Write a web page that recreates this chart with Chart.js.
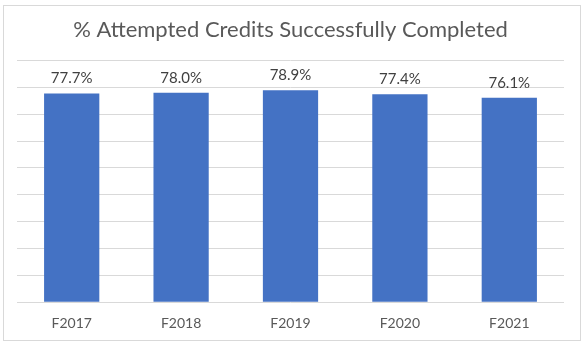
<!DOCTYPE html>
<html>
<head>
<meta charset="utf-8">
<script src="https://cdn.jsdelivr.net/npm/chart.js@4"></script>
<style>
    body { margin: 0; background: #ffffff; }
    .frame {
        position: absolute;
        left: 3px; top: 5px;
        width: 576px; height: 334px;
        border: 1px solid #d9d9d9;
    }
    .wrap { position: absolute; left: 0; top: 0; width: 584px; height: 349px; }
</style>
</head>
<body>
<div class="frame"></div>
<div class="wrap"><canvas class="bar_canvas" width="584" height="349"></canvas></div>
<script>
const labels = ['F2017', 'F2018', 'F2019', 'F2020', 'F2021'];
const values = [77.7, 78.0, 78.9, 77.4, 76.1];
const chartTitle = '% Attempted Credits Successfully Completed';

// draw the value labels above each bar
const barLabels = {
    id: 'barLabels',
    afterDatasetsDraw(chart) {
        const ctx = chart.ctx;
        const meta = chart.getDatasetMeta(0);
        ctx.save();
        ctx.font = '15px Lato, "Open Sans", sans-serif';
        ctx.fillStyle = '#404040';
        ctx.textAlign = 'center';
        ctx.textBaseline = 'alphabetic';
        meta.data.forEach(function(bar, i) {
            ctx.fillText(values[i].toFixed(1) + '%', bar.x, bar.y - 10);
        });
        ctx.restore();
    }
};

window.onload = function() {
    const ctx = document.querySelector(".bar_canvas");
    const bar_canvas = new Chart(ctx, {
        type: 'bar',
        data: {
            labels: labels,
            datasets: [{
                data: values,
                backgroundColor: '#4472C4',
                categoryPercentage: 1,
                barPercentage: 0.505
            }]
        },
        options: {
            responsive: false,
            animation: false,
            layout: {
                padding: { left: 17, right: 20, top: 0, bottom: 4 }
            },
            plugins: {
                legend: { display: false },
                tooltip: { enabled: false },
                title: {
                    display: true,
                    text: chartTitle,
                    color: '#595959',
                    font: { family: 'Lato, "Open Sans", sans-serif', size: 22, weight: 'normal' },
                    padding: { top: 17, bottom: 17 }
                }
            },
            scales: {
                x: {
                    grid: { display: false, drawTicks: false },
                    border: { display: false },
                    ticks: {
                        color: '#595959',
                        font: { family: 'Lato, "Open Sans", sans-serif', size: 14 },
                        padding: 13
                    }
                },
                y: {
                    min: 0,
                    max: 90,
                    ticks: { display: false, stepSize: 10 },
                    grid: { color: '#d9d9d9', drawTicks: false },
                    border: { display: false }
                }
            }
        },
        plugins: [barLabels]
    });
}
</script>
</body>
</html>
